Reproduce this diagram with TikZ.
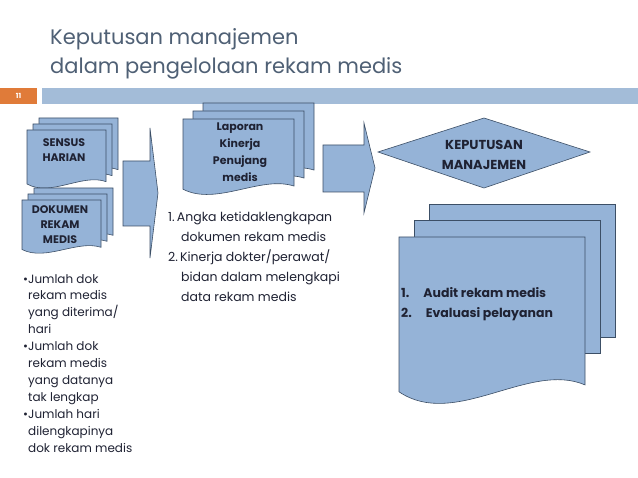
\documentclass[tikz,border=0pt]{standalone}
\usepackage{fontspec}
\setmainfont{Poppins}
\definecolor{docfill}{HTML}{95B3D7}
\definecolor{docline}{HTML}{3C4F66}
\definecolor{titlec}{HTML}{4F6075}
\definecolor{barc}{HTML}{A3BCD8}
\definecolor{orangec}{HTML}{E07B39}
\definecolor{txt}{HTML}{1F2233}
\newcommand\docshape[4]{%
  \filldraw[fill=docfill,draw=docline,line width=0.6pt]
  (#1,#2) -- ({#1+#3},#2) -- ({#1+#3},{#2+0.86*#4})
  .. controls ({#1+0.7*#3},{#2+0.72*#4}) and ({#1+0.3*#3},{#2+1.12*#4}) .. (#1,{#2+0.9*#4}) -- cycle;}
\newcommand\pagerect[4]{%
  \filldraw[fill=docfill,draw=docline,line width=0.6pt] (#1,#2) rectangle ({#1+#3},{#2+#4});}
\tikzset{lbl/.style={font=\bfseries\fontsize{11}{15}\selectfont,text=txt,align=center,inner sep=0pt},
  body/.style={text=txt,align=left,inner sep=0pt,anchor=north west}}
\begin{document}
\begin{tikzpicture}[x=1pt,y=-1pt]
\useasboundingbox (0,0) rectangle (638,478);
\fill[white] (0,0) rectangle (638,478);
\node[anchor=west,text=titlec,font=\fontsize{21}{24}\selectfont,inner sep=0pt] (t1) at (50,39) {Keputusan manajemen};
\node[anchor=west,text=titlec,font=\fontsize{21}{24}\selectfont,inner sep=0pt] (t2) at (50,68) {dalam pengelolaan rekam medis};
\fill[orangec] (0,88) rectangle (37,104);
\node[text=white,font=\bfseries\fontsize{7}{8}\selectfont] (num) at (18.5,96) {11};
\fill[barc] (42,88) rectangle (638,104);
% SENSUS HARIAN
\docshape{39}{118}{79}{60}
\docshape{33}{124}{79}{60}
\docshape{27}{130}{79}{60}
\node[lbl] (sensus) at (64,150) {SENSUS\\HARIAN};
% DOKUMEN
\docshape{34}{188}{79}{55}
\docshape{28}{194}{79}{55}
\docshape{22}{200}{79}{55}
\node[lbl] (dok) at (60,225) {DOKUMEN\\REKAM\\MEDIS};
% arrow 1
\filldraw[fill=docfill,draw=docline,line width=0.6pt] (123,161) -- (150,161) -- (150,128) -- (158,193) -- (150,258) -- (150,226) -- (123,226) -- cycle;
% Laporan
\docshape{203}{103}{111}{78}
\docshape{193}{111}{111}{78}
\docshape{183}{119}{111}{78}
\node[lbl,font=\bfseries\fontsize{11}{17}\selectfont] (lap) at (240,152) {Laporan\\Kinerja\\Penujang\\medis};
% arrow 2
\filldraw[fill=docfill,draw=docline,line width=0.6pt] (323,145) -- (364,145) -- (364,123) -- (375,168) -- (364,213) -- (364,192) -- (323,192) -- cycle;
% diamond
\filldraw[fill=docfill,draw=docline,line width=0.6pt] (378,152) -- (484,118) -- (590,152) -- (484,188) -- cycle;
\node[lbl,font=\bfseries\fontsize{13}{20}\selectfont] (kep) at (484,155) {KEPUTUSAN\\MANAJEMEN};
% big stack
\pagerect{429}{204}{186}{133}
\pagerect{414}{220}{186}{133}
\docshape{399}{237}{186}{172}
\node[anchor=north west,font=\bfseries\fontsize{12.5}{20}\selectfont,text=txt,align=left,inner sep=0pt] (aud) at (401,287) {1.\hspace{14pt}Audit rekam medis\\2.\hspace{14pt}Evaluasi pelayanan};
% middle list
\node[body,font=\fontsize{12.5}{20}\selectfont] (mid) at (168,212) {1.\,Angka ketidaklengkapan\\\hspace{13pt}dokumen rekam medis\\2.\,Kinerja dokter/perawat/\\\hspace{13pt}bidan dalam melengkapi\\\hspace{13pt}data rekam medis};
% left list
\node[body,font=\fontsize{12}{16.9}\selectfont] (left) at (23,274) {•Jumlah dok\\\hspace{5pt}rekam medis\\\hspace{5pt}yang diterima/\\\hspace{5pt}hari\\•Jumlah dok\\\hspace{5pt}rekam medis\\\hspace{5pt}yang datanya\\\hspace{5pt}tak lengkap\\•Jumlah hari\\\hspace{5pt}dilengkapinya\\\hspace{5pt}dok rekam medis};
\end{tikzpicture}
\end{document}
